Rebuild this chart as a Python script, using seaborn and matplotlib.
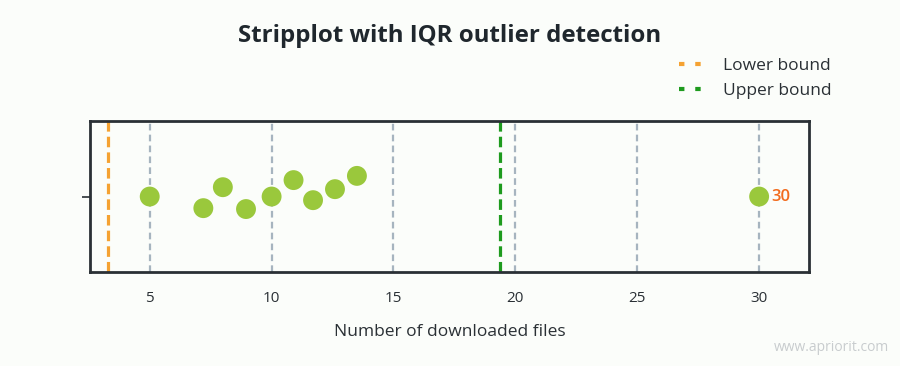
import matplotlib
matplotlib.use("Agg")
import matplotlib.pyplot as plt
from matplotlib.lines import Line2D
import seaborn as sns
import pandas as pd

# Data
downloads = [5, 7.2, 8.0, 8.95, 10, 10.9, 11.7, 12.6, 13.5, 30]
jitter_offsets = [0.0, 0.077, -0.062, 0.083, 0.0, -0.109, 0.024, -0.049, -0.137, 0.0]
lower_bound = 3.3
upper_bound = 19.35
outlier_values = [30]
x_ticks = [5, 10, 15, 20, 25, 30]

bg = "#fbfdfa"
sns.set_theme(style="white")
plt.rcParams["font.family"] = ["Open Sans", "DejaVu Sans"]

fig = plt.figure(figsize=(9, 3.66), dpi=100, facecolor=bg)
ax = fig.add_axes([0.1, 0.257, 0.799, 0.412])
ax.set_facecolor(bg)

df = pd.DataFrame({"files": downloads, "offset": jitter_offsets})

for t in x_ticks:
    ax.axvline(t, color="#a6b4bf", lw=1.6, linestyle=(0, (3.0, 1.9)), zorder=1)

ax.axvline(lower_bound, color="#f5a232", lw=2.3, linestyle=(0, (3.3, 1.6)), zorder=2)
ax.axvline(upper_bound, color="#1e9b1e", lw=2.3, linestyle=(0, (3.3, 1.6)), zorder=2)

sns.scatterplot(data=df, x="files", y="offset", ax=ax, color="#9ac83c",
                s=205, edgecolor="none", linewidth=0, zorder=3, legend=False)

for v in outlier_values:
    ax.annotate(f"{v}", xy=(v, 0), xytext=(9, 0), textcoords="offset points",
                ha="left", va="center", color="#f26b1d", fontsize=12, fontweight="semibold")

ax.set_xlim(2.55, 32.05)
ax.set_ylim(0.5, -0.5)
ax.set_xticks(x_ticks)
ax.set_xticklabels([str(t) for t in x_ticks], fontsize=11, color="#2a3035")
ax.set_yticks([0])
ax.set_yticklabels([""])
ax.tick_params(axis="y", left=True, length=6, width=1.2, color="#2a3035")
ax.tick_params(axis="x", bottom=False, pad=8)
for s in ax.spines.values():
    s.set_color("#2a3035")
    s.set_linewidth(2)
ax.set_xlabel("Number of downloaded files", fontsize=12.5, color="#2a3035", labelpad=13)
ax.set_ylabel("")

handles = [
    Line2D([0], [0], color="#f5a232", lw=3, linestyle=(0, (1.3, 2.6))),
    Line2D([0], [0], color="#1e9b1e", lw=3, linestyle=(0, (1.3, 2.6))),
]
fig.legend(handles, ["Lower bound", "Upper bound"], loc="upper left",
           bbox_to_anchor=(0.737, 0.885), frameon=False, fontsize=12.5,
           handlelength=1.3, handletextpad=1.25, labelspacing=0.5,
           labelcolor="#2a3035")

fig.text(0.5, 0.902, "Stripplot with IQR outlier detection", ha="center", va="center",
         fontsize=17.3, fontweight="bold", color="#1f272d")
fig.text(0.988, 0.05, "www.apriorit.com", ha="right", va="center",
         fontsize=10, color="#c8ccce")

fig.savefig("out.png", dpi=100, facecolor=bg)
